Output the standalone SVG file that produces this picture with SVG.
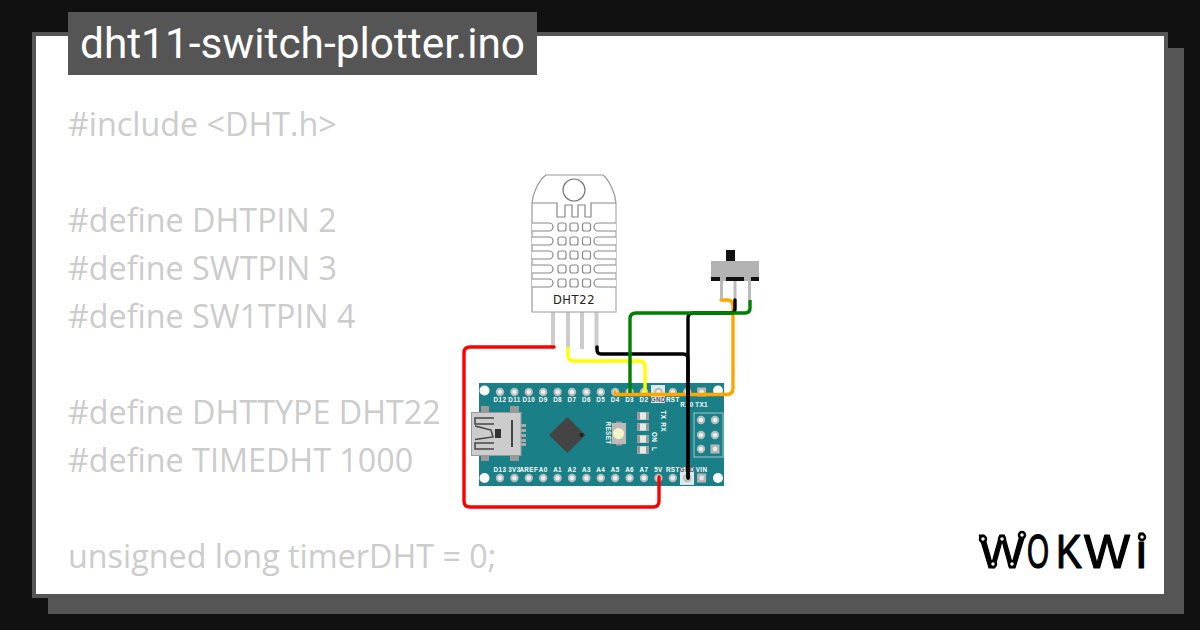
<svg xmlns="http://www.w3.org/2000/svg" width="1200" height="630" viewBox="0 0 1200 630">
<style>
.code{font-family:"Open Sans",sans-serif;font-size:32.3px;fill:#ccc}
.title{font-family:"Roboto",sans-serif;font-size:42.4px;fill:#fff}
.bl{font-family:"Liberation Sans",sans-serif;font-size:6.3px;font-weight:700;fill:#fff;text-anchor:middle;letter-spacing:.4px}
.wire{fill:none;stroke-width:3.4;stroke-linecap:round;stroke-linejoin:round}
.dhtp{fill:#ccc}
.logo{font-family:"Liberation Sans",sans-serif;font-size:48px;fill:#000;stroke:#000;stroke-width:1.2;stroke-linejoin:round}
</style>
<defs>
<g id="pin"><circle r="4.200" fill="#b3bdbd"/><circle r="2.300" fill="#ececec"/></g>
<g id="sq"><rect x="-4.500" y="-4.500" width="9" height="9" fill="#b5b5b5"/><circle r="2.400" fill="#e6e6e6"/></g>
<g id="led"><rect x="-6" y="-3.800" width="12" height="7.600" fill="#e8e8e8"/><rect x="-6" y="-3.800" width="3" height="7.600" fill="#999"/><rect x="3" y="-3.800" width="3" height="7.600" fill="#999"/></g>
</defs>
<rect width="1200" height="630" fill="#111"/>
<rect x="48" y="48" width="1136" height="566" fill="#555"/>
<rect x="34" y="34" width="1132" height="562" fill="#fff" stroke="#555" stroke-width="4"/>
<g id="code">
<text class="code" x="68" y="136">#include &lt;DHT.h&gt;</text>
<text class="code" x="68" y="232">#define DHTPIN 2</text>
<text class="code" x="68" y="280">#define SWTPIN 3</text>
<text class="code" x="68" y="328">#define SW1TPIN 4</text>
<text class="code" x="68" y="424">#define DHTTYPE DHT22</text>
<text class="code" x="68" y="472">#define TIMEDHT 1000</text>
<text class="code" x="68" y="568">unsigned long timerDHT = 0;</text>
</g>
<g id="title">
<rect x="68" y="12" width="469" height="63" fill="#555"/>
<text class="title" x="80" y="58">dht11-switch-plotter.ino</text>
</g>
<g id="dht22">
<g class="dhtp"><rect x="551" y="312" width="4" height="37"/><rect x="566" y="312" width="4" height="37"/><rect x="580" y="312" width="4" height="37"/><rect x="594.500" y="312" width="4" height="37"/></g>
<path d="M546 175H603C609 180 615 192 616 203V312H532V203C533 192 539 180 546 175Z" fill="#fff" stroke="#999" stroke-width="1.200"/>
<path d="M616 203V312" stroke="#ccc" stroke-width="2" fill="none"/>
<path d="M532 203H557V217H565V205H572V217H578V205H585V217H591V203H616" fill="none" stroke="#888" stroke-width="1.200"/>
<circle cx="574" cy="190" r="11" fill="#fff" stroke="#777" stroke-width="1.200"/>
<g fill="#fff" stroke="#888" stroke-width="1.200">
<path d="M532 223H549A4 4 0 0 1 549 231H532"/><path d="M532 237H549A4 4 0 0 1 549 245H532"/><path d="M532 251H549A4 4 0 0 1 549 259H532"/><path d="M532 265H549A4 4 0 0 1 549 273H532"/><path d="M532 279H549A4 4 0 0 1 549 287H532"/>
<path d="M616 223H598A4 4 0 0 0 598 231H616"/><path d="M616 237H598A4 4 0 0 0 598 245H616"/><path d="M616 251H598A4 4 0 0 0 598 259H616"/><path d="M616 265H598A4 4 0 0 0 598 273H616"/><path d="M616 279H598A4 4 0 0 0 598 287H616"/>
<rect x="558" y="223" width="8" height="8" rx="2"/><rect x="570" y="223" width="8" height="8" rx="2"/><rect x="582.500" y="223" width="8" height="8" rx="2"/>
<rect x="558" y="237" width="8" height="8" rx="2"/><rect x="570" y="237" width="8" height="8" rx="2"/><rect x="582.500" y="237" width="8" height="8" rx="2"/>
<rect x="558" y="251" width="8" height="8" rx="2"/><rect x="570" y="251" width="8" height="8" rx="2"/><rect x="582.500" y="251" width="8" height="8" rx="2"/>
<rect x="558" y="265" width="8" height="8" rx="2"/><rect x="570" y="265" width="8" height="8" rx="2"/><rect x="582.500" y="265" width="8" height="8" rx="2"/>
<rect x="558" y="279" width="8" height="8" rx="2"/><rect x="570" y="279" width="8" height="8" rx="2"/><rect x="582.500" y="279" width="8" height="8" rx="2"/>
</g>
<text x="574" y="303.500" text-anchor="middle" font-family="DejaVu Sans, sans-serif" font-size="11.500" fill="#222" letter-spacing=".6">DHT22</text>
</g>
<g id="switch">
<rect x="726" y="250" width="9" height="12" fill="#111"/>
<rect x="711" y="261" width="48" height="20" fill="#b3b3b3"/>
<rect x="711" y="277" width="9" height="4" fill="#111"/><rect x="726" y="277" width="18" height="4" fill="#111"/><rect x="751" y="277" width="8" height="4" fill="#111"/>
<rect x="720" y="281" width="3" height="19" fill="#bbb"/><rect x="733.500" y="281" width="3" height="19" fill="#bbb"/><rect x="748" y="281" width="3" height="19" fill="#bbb"/>
</g>
<g id="nano">
<rect x="479" y="383" width="245" height="103" fill="#1a7f87"/>
<rect x="651" y="385" width="14" height="18" fill="#dfe8e8"/>
<rect x="680" y="467" width="14" height="18" fill="#dfe8e8"/>
<circle cx="484.500" cy="390.500" r="5" fill="#fff"/><circle cx="484.500" cy="478" r="5" fill="#fff"/><circle cx="718" cy="390.500" r="5" fill="#fff"/><circle cx="718" cy="478" r="5" fill="#fff"/>
<g id="pins-top">
<use href="#pin" x="500" y="392"/><use href="#pin" x="514.400" y="392"/><use href="#pin" x="528.800" y="392"/><use href="#pin" x="543.200" y="392"/><use href="#pin" x="557.600" y="392"/><use href="#pin" x="572" y="392"/><use href="#pin" x="586.400" y="392"/><use href="#pin" x="600.800" y="392"/><use href="#pin" x="615.200" y="392"/><use href="#pin" x="629.600" y="392"/><use href="#pin" x="644" y="392"/><use href="#pin" x="658.400" y="392"/><use href="#pin" x="672.800" y="392"/><use href="#pin" x="687.200" y="392"/><use href="#sq" x="701.600" y="392"/>
</g>
<g id="pins-bottom">
<use href="#pin" x="500" y="478"/><use href="#pin" x="514.400" y="478"/><use href="#pin" x="528.800" y="478"/><use href="#pin" x="543.200" y="478"/><use href="#pin" x="557.600" y="478"/><use href="#pin" x="572" y="478"/><use href="#pin" x="586.400" y="478"/><use href="#pin" x="600.800" y="478"/><use href="#pin" x="615.200" y="478"/><use href="#pin" x="629.600" y="478"/><use href="#pin" x="644" y="478"/><use href="#pin" x="658.400" y="478"/><use href="#pin" x="672.800" y="478"/><use href="#pin" x="687.200" y="478"/><use href="#sq" x="701.600" y="478"/>
</g>
<g class="bl">
<text x="500" y="402">D12</text><text x="514.400" y="402">D11</text><text x="528.800" y="402">D10</text><text x="543.200" y="402">D9</text><text x="557.600" y="402">D8</text><text x="572" y="402">D7</text><text x="586.400" y="402">D6</text><text x="600.800" y="402">D5</text><text x="615.200" y="402">D4</text><text x="629.600" y="402">D3</text><text x="644" y="402">D2</text><text x="658.400" y="402" fill="#556">GND</text><text x="672.800" y="402">RST</text>
<text x="687" y="407">RX0</text><text x="701.600" y="407">TX1</text>
<text x="500" y="472">D13</text><text x="514.400" y="472">3V3</text><text x="528.800" y="472">AREF</text><text x="543.200" y="472">A0</text><text x="557.600" y="472">A1</text><text x="572" y="472">A2</text><text x="586.400" y="472">A3</text><text x="600.800" y="472">A4</text><text x="615.200" y="472">A5</text><text x="629.600" y="472">A6</text><text x="644" y="472">A7</text><text x="658.400" y="472">5V</text><text x="672.800" y="472">RST</text><text x="687.200" y="472" fill="#556">GND</text><text x="701.600" y="472">VIN</text>
<text transform="translate(605.500 433) rotate(90)">RESET</text>
<text transform="translate(661 415) rotate(90)">TX</text><text transform="translate(661 427) rotate(90)">RX</text>
<text transform="translate(652 437) rotate(90)">ON</text><text transform="translate(652 449) rotate(90)">L</text>
</g>
<rect x="694" y="413" width="29" height="44" fill="none" stroke="#9cc" stroke-width="1"/>
<use href="#pin" x="701" y="420"/><use href="#pin" x="715" y="420"/><use href="#pin" x="701" y="435"/><use href="#pin" x="715" y="435"/><use href="#pin" x="701" y="449"/><use href="#sq" x="715" y="449"/>
<g id="usb">
<rect x="481" y="406" width="8" height="7" fill="#999"/><rect x="510" y="406" width="9" height="7" fill="#999"/><rect x="481" y="455" width="8" height="6" fill="#999"/><rect x="510" y="455" width="9" height="6" fill="#999"/>
<rect x="521" y="424" width="5" height="3" fill="#aaa"/><rect x="521" y="429" width="5" height="3" fill="#aaa"/><rect x="521" y="434" width="5" height="3" fill="#aaa"/><rect x="521" y="439" width="5" height="3" fill="#aaa"/><rect x="521" y="443" width="5" height="3" fill="#aaa"/>
<rect x="471.500" y="412.500" width="49.500" height="43" fill="#ccc" stroke="#999"/>
<path d="M494 418H475V424H494M475 426L491 430L493 437L475 439.500M494 443H475V449H494" fill="none" stroke="#444" stroke-width="1.500"/>
<rect x="495" y="429" width="6" height="9" fill="#333"/>
<rect x="511" y="420" width="2" height="27" fill="#444"/>
</g>
<g id="chip"><path d="M567.300 417L585.500 435L567.300 453L549 435Z" fill="#444"/><circle cx="581.500" cy="435" r="2" fill="#222"/></g>
<g id="reset"><rect x="616" y="421.500" width="6" height="24" fill="#999"/><rect x="612" y="423" width="14" height="21" fill="#bbb"/><circle cx="618.500" cy="433.500" r="5.500" fill="#f3f3c8"/></g>
<use href="#led" x="643" y="416"/><use href="#led" x="643" y="427"/><use href="#led" x="643" y="439"/><use href="#led" x="643" y="450"/>
</g>
<g id="connectors">
<path class="wire" stroke="#f00" d="M554 347H470Q464 347 464 353V501Q464 507 470 507H653Q659 507 659 501V477"/>
<path class="wire" stroke="#ff0" style="stroke-linecap:butt" d="M568 347V355Q568 361 574 361H639Q645 361 645 367V393"/>
<path class="wire" stroke="#ffa500" d="M721 300H727Q733 300 733 306V388Q733 394.500 727 394.500H616.500Q615 394.500 615 392"/>
<path class="wire" stroke="#000" d="M597 347V350Q597 354 601 354H683Q688 354 688 359V478"/>
<path class="wire" stroke="#000" d="M735 300V309Q735 313 731 313H693Q688 313 688 318V478"/>
<path class="wire" stroke="#008000" style="stroke-linecap:butt" d="M750 300V308Q750 313 745 313H636Q630 313 630 319V393"/>
</g>
<g id="logo">
<text class="logo" y="568"><tspan x="979" textLength="46" lengthAdjust="spacingAndGlyphs">W</tspan><tspan x="1027" textLength="22" lengthAdjust="spacingAndGlyphs">O</tspan><tspan x="1056" textLength="26" lengthAdjust="spacingAndGlyphs">K</tspan><tspan x="1084" textLength="46" lengthAdjust="spacingAndGlyphs">W</tspan><tspan x="1136">i</tspan></text>
<g fill="#fff" stroke="#000" stroke-width="2.500"><circle cx="983" cy="539" r="3"/><circle cx="1002" cy="539" r="3"/><circle cx="1022" cy="535" r="3"/><circle cx="993" cy="564" r="3"/><circle cx="1012" cy="564" r="3"/><circle cx="1142" cy="537" r="3"/></g>
</g>
</svg>
